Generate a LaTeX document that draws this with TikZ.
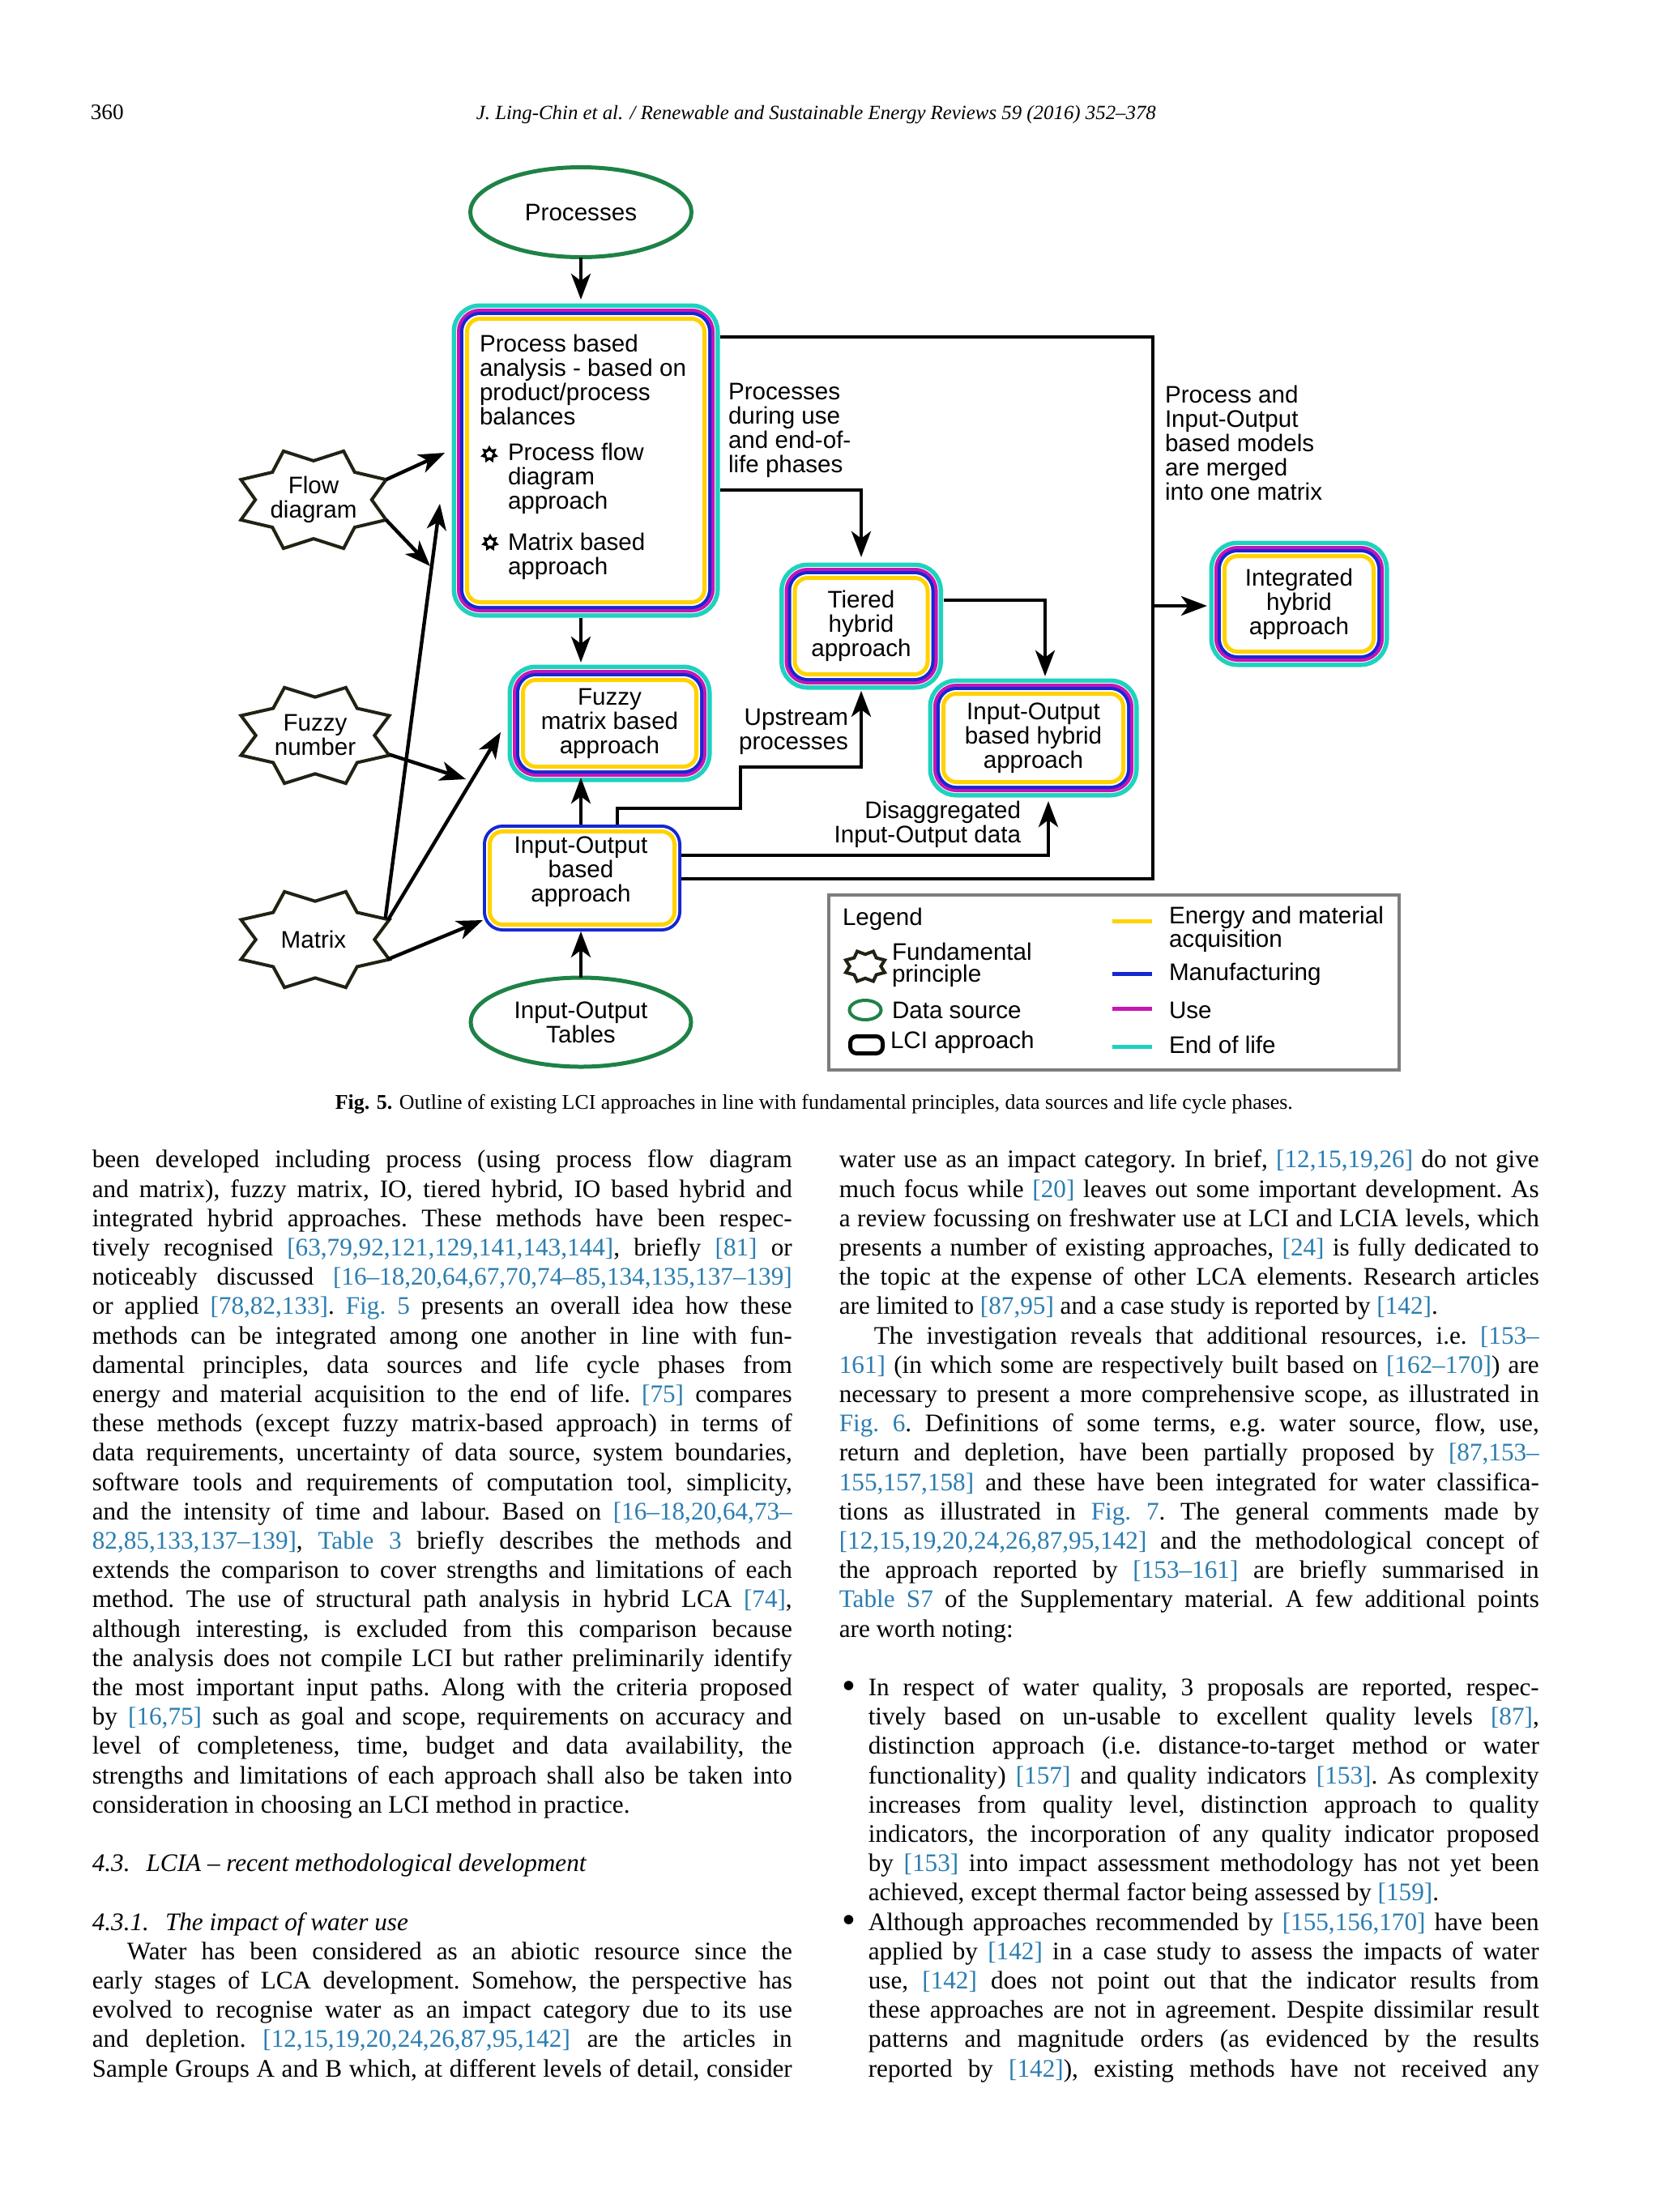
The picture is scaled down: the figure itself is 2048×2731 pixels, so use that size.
\documentclass[tikz,border=0pt]{standalone}
\usepackage{fontspec}
\setmainfont{Liberation Serif}
\newfontfamily\arialf{Liberation Sans}
\usepackage{graphicx}
\usetikzlibrary{shapes.geometric,arrows.meta,calc}
\definecolor{cT}{HTML}{1ED2BE}
\definecolor{cM}{HTML}{C814B4}
\definecolor{cB}{HTML}{1428D2}
\definecolor{cY}{HTML}{FFD200}
\definecolor{cG}{HTML}{1E8246}
\definecolor{lnk}{HTML}{2A7DB0}
\definecolor{starc}{HTML}{222214}
\definecolor{lgray}{HTML}{7D7D7D}
\newlength\colw \setlength\colw{216pt}
\newcommand\cit[1]{{\color{lnk}#1}}
\newcommand\jl[1]{\hbox to\colw{\rule{0pt}{7pt}#1}}
\newcommand\nl[1]{\hbox{\rule{0pt}{7pt}#1}}
\newcommand\il[1]{\hbox to\colw{\rule{0pt}{7pt}\hskip10.75pt #1}}
\newcommand\bfl[1]{\hbox to\colw{\rule{0pt}{7pt}\hbox to 9pt{\hskip0.8pt\raisebox{-0.9pt}{\scalebox{1.55}{•}}\hfil}#1}}
\newcommand\bjl[1]{\hbox to\colw{\rule{0pt}{7pt}\hskip9pt #1}}
\newcommand\bnl[1]{\hbox{\rule{0pt}{7pt}\hskip9pt #1}}
\newcommand\fstar[4]{\draw[starline] plot[samples at={0,...,15}] ({#1+#3*(1-0.26*mod(\x,2))*cos(22.5*\x-22.5)},{#2+#4*(1-0.26*mod(\x,2))*sin(22.5*\x-22.5)}) -- cycle;}
\tikzset{
 dtext/.style={font=\arialf\fontsize{7.4}{7.5}\selectfont},
 lci/.style={rectangle, rounded corners=4pt, draw=cY, line width=1.25pt, fill=white, inner sep=0pt, outer sep=0pt, align=center, dtext,
   preaction={draw=cT, line width=9.5pt},
   preaction={draw=white, line width=6.75pt},
   preaction={draw=cM, line width=6.25pt},
   preaction={draw=cB, line width=4.25pt},
   preaction={draw=white, line width=2.25pt}},
 iob/.style={rectangle, rounded corners=4pt, draw=cY, line width=1.25pt, fill=white, inner sep=0pt, outer sep=0pt, align=center, dtext,
   preaction={draw=cB, line width=4.25pt},
   preaction={draw=white, line width=2.25pt}},
 src/.style={ellipse, draw=cG, line width=1.25pt, fill=white, inner sep=0pt, outer sep=0pt, align=center, dtext},
 starline/.style={draw=starc, line width=1pt, fill=white, line join=miter},
 conn/.style={line width=1.1pt, line join=miter},
 arr/.style={conn, -{Stealth[length=8pt,width=6pt,inset=2.2pt]}},
 lbl/.style={dtext, inner sep=0pt, outer sep=0pt},
 swatch/.style={inner sep=0pt, outer sep=0pt, minimum width=12.25pt, minimum height=1.25pt},
 bicon/.style={star, star points=7, star point ratio=1.7, fill=black, minimum size=5.6pt, inner sep=0pt},
 bhole/.style={regular polygon, regular polygon sides=5, fill=white, minimum size=2.2pt, inner sep=0pt},
}
\begin{document}
\begin{tikzpicture}[x=0.25pt,y=-0.25pt]
\useasboundingbox (0,0) rectangle (2048,2731);
\fill[white] (0,0) rectangle (2048,2731);

% ---------- running head ----------
\node[anchor=base west, inner sep=0pt] (pgn) at (111,147) {\fontsize{6.8}{8}\selectfont 360};
\node[anchor=base west, inner sep=0pt] (runh) at (587,147) {\resizebox{209.75pt}{!}{\itshape J. Ling-Chin et al. / Renewable and Sustainable Energy Reviews 59 (2016) 352–378}};

% ---------- fundamental principles (stars) ----------
\fstar{387}{617}{97}{65}
\fstar{389}{908}{99}{64}
\fstar{389}{1160}{99}{64}
\node[lbl, align=center] (flow) at (387,617) {Flow\\diagram};
\node[lbl, align=center] (fnum) at (389,907) {Fuzzy\\number};
\node[lbl] (matx) at (387,1160) {Matrix};

% ---------- data sources ----------
\node[src, minimum width=68.25pt, minimum height=27.75pt] (proc) at (717,262) {Processes};
\node[src, minimum width=68pt, minimum height=27.5pt] (iot) at (717,1262) {Input-Output\\Tables};

% ---------- LCI approaches ----------
\node[lci, minimum width=73.25pt, minimum height=87.5pt] (pbox) at (723,568.5) {};
\node[lbl, anchor=north west, align=left] (ptxt) at (592,413.5) {Process based\\analysis - based on\\product/process\\balances};
\node[bicon] (pb1) at (604,561) {};
\node[bhole] (pb1c) at (604,561) {};
\node[lbl, anchor=north west, align=left] (pb1t) at (627,547.5) {Process flow\\diagram\\approach};
\node[bicon] (pb2) at (605,670) {};
\node[bhole] (pb2c) at (605,670) {};
\node[lbl, anchor=north west, align=left] (pb2t) at (627,658.5) {Matrix based\\approach};

\node[lci, minimum width=53.5pt, minimum height=26.75pt] (fuzzy) at (752.5,893) {Fuzzy\\matrix based\\approach};
\node[lci, minimum width=41pt, minimum height=29.75pt] (tier) at (1063,773) {Tiered\\hybrid\\approach};
\node[lci, minimum width=55.5pt, minimum height=27.25pt] (iohy) at (1275.5,911) {Input-Output\\based hybrid\\approach};
\node[lci, minimum width=46pt, minimum height=29.5pt] (integ) at (1603.5,745.5) {Integrated\\hybrid\\approach};
\node[iob, minimum width=57pt, minimum height=28.75pt] (io) at (718.5,1084) {};
\node[lbl, align=center] (iotxt) at (717,1076) {Input-Output\\based\\approach};

% ---------- connector labels ----------
\node[lbl, anchor=west, align=left] (lab1) at (899,531) {Processes\\during use\\and end-of-\\life phases};
\node[lbl, anchor=east, align=right] (lab2) at (1047,903.5) {Upstream\\processes};
\node[lbl, anchor=east, align=right] (lab3) at (1260,1017.5) {Disaggregated\\Input-Output data};
\node[lbl, anchor=west, align=left] (lab4) at (1438,547) {Process and\\Input-Output\\based models\\are merged\\into one matrix};

% ---------- connectors ----------
\coordinate (f1e) at (549,559);
\coordinate (f2e) at (531,699);
\coordinate (nume) at (575,962);
\coordinate (m1e) at (543,622);
\coordinate (m2e) at (618,904);
\coordinate (m3e) at (596,1136);
\coordinate (loopv) at (1423,748);

\draw[arr] ($(flow.center)+(-22.5:97 and 65)$) -- (f1e);
\draw[arr] ($(flow.center)+(22.5:97 and 65)$) -- (f2e);
\draw[arr] ($(fnum.center)+(22.5:99 and 64)$) -- (nume);
\draw[arr] ($(matx.center)+(-24:97 and 64)$) -- (m1e);
\draw[arr] ($(matx.center)+(-22:99 and 64)$) -- (m2e);
\draw[arr] ($(matx.center)+(22.5:99 and 64)$) -- (m3e);

\draw[arr, shorten >=5.9pt] (proc.south) -- (proc.south |- pbox.north);
\draw[arr, shorten <=4.9pt, shorten >=5.4pt] (proc.south |- pbox.south) -- (proc.south |- fuzzy.north);
\draw[arr, shorten <=2.1pt, shorten >=3.4pt] (proc.south |- io.north) -- (proc.south |- fuzzy.south);
\draw[arr, shorten >=2.1pt] (iot.north) -- (iot.north |- io.south);

\draw[arr, shorten <=4.9pt, shorten >=6.4pt] (pbox.east |- 0,605) -| (tier.north);
\draw[arr, shorten <=4.9pt, shorten >=5.4pt] (tier.east |- 0,741) -| (iohy.north -| 1290,0);
\draw[arr, shorten <=2.1pt, shorten >=5.1pt] (io.north -| 762,0) |- (914,998) |- (tier.south |- 0,947) -- (tier.south);
\draw[arr, shorten <=2.1pt, shorten >=5.9pt] (io.east |- 0,1056) -| (iohy.south -| 1294,0);
\draw[conn, shorten <=4.9pt, shorten >=2.1pt] (pbox.east |- 0,416) -| (1423,1085) -- (io.east |- 0,1085);
\draw[arr, shorten >=5.4pt] (loopv) -- (integ.west |- loopv);

% ---------- legend ----------
\node[draw=lgray, line width=1pt, minimum width=176pt, minimum height=54pt, inner sep=0pt, outer sep=0pt] (legend) at (1375,1213) {};
\node[lbl, anchor=west] (lgt) at (1040,1135) {Legend};
\fstar{1068}{1193}{26}{20}
\node[lbl, anchor=west, align=left, font=\arialf\fontsize{7.4}{6.9}\selectfont] (lfp) at (1101,1191.5) {Fundamental\\principle};
\node[ellipse, draw=cG, line width=1pt, minimum width=9.75pt, minimum height=6pt, inner sep=0pt] (ldsi) at (1068,1247) {};
\node[lbl, anchor=west] (lds) at (1101,1247) {Data source};
\node[rectangle, rounded corners=2pt, draw=black, line width=1.25pt, minimum width=10pt, minimum height=5.25pt, inner sep=0pt] (llcii) at (1069.5,1290) {};
\node[lbl, anchor=west] (llci) at (1099,1287) {LCI approach};
\node[swatch, fill=cY] (lsy) at (1397.5,1137) {};
\node[swatch, fill=cB] (lsb) at (1397.5,1202) {};
\node[swatch, fill=cM] (lsm) at (1397.5,1245) {};
\node[swatch, fill=cT] (lst) at (1397.5,1292) {};
\node[lbl, anchor=west, align=left, font=\arialf\fontsize{7.4}{7.25}\selectfont] (lem) at (1443,1147.5) {Energy and material\\acquisition};
\node[lbl, anchor=west] (lma) at (1443,1203) {Manufacturing};
\node[lbl, anchor=west] (luse) at (1443,1247) {Use};
\node[lbl, anchor=west] (leol) at (1443,1290) {End of life};

% ---------- caption ----------
\node[anchor=base west, inner sep=0pt] (cap) at (413,1369) {\resizebox{295.5pt}{!}{\textbf{Fig. 5.} Outline of existing LCI approaches in line with fundamental principles, data sources and life cycle phases.}};

% ---------- body text ----------
\node[anchor=north west, inner sep=0pt] (lcol) at (113,1413) {\vbox{\hsize=\colw \fontsize{7.8}{9.05}\selectfont \lineskiplimit=-100pt \frenchspacing
\jl{been developed including process (using process flow diagram}
\jl{and matrix), fuzzy matrix, IO, tiered hybrid, IO based hybrid and}
\jl{integrated hybrid approaches. These methods have been respec-}
\jl{tively recognised \cit{[63,79,92,121,129,141,143,144]}, briefly \cit{[81]} or}
\jl{noticeably discussed \cit{[16–18,20,64,67,70,74–85,134,135,137–139]}}
\jl{or applied \cit{[78,82,133]}. \cit{Fig. 5} presents an overall idea how these}
\jl{methods can be integrated among one another in line with fun-}
\jl{damental principles, data sources and life cycle phases from}
\jl{energy and material acquisition to the end of life. \cit{[75]} compares}
\jl{these methods (except fuzzy matrix-based approach) in terms of}
\jl{data requirements, uncertainty of data source, system boundaries,}
\jl{software tools and requirements of computation tool, simplicity,}
\jl{and the intensity of time and labour. Based on \cit{[16–18,20,64,73–}}
\jl{\cit{82,85,133,137–139]}, \cit{Table 3} briefly describes the methods and}
\jl{extends the comparison to cover strengths and limitations of each}
\jl{method. The use of structural path analysis in hybrid LCA \cit{[74]},}
\jl{although interesting, is excluded from this comparison because}
\jl{the analysis does not compile LCI but rather preliminarily identify}
\jl{the most important input paths. Along with the criteria proposed}
\jl{by \cit{[16,75]} such as goal and scope, requirements on accuracy and}
\jl{level of completeness, time, budget and data availability, the}
\jl{strengths and limitations of each approach shall also be taken into}
\nl{consideration in choosing an LCI method in practice.}
\hbox{}
\nl{\itshape 4.3.\hskip5pt LCIA – recent methodological development}
\hbox{}
\nl{\itshape 4.3.1.\hskip5pt The impact of water use}
\il{Water has been considered as an abiotic resource since the}
\jl{early stages of LCA development. Somehow, the perspective has}
\jl{evolved to recognise water as an impact category due to its use}
\jl{and depletion. \cit{[12,15,19,20,24,26,87,95,142]} are the articles in}
\jl{Sample Groups A and B which, at different levels of detail, consider}
}};

\node[anchor=north west, inner sep=0pt] (rcol) at (1035,1413) {\vbox{\hsize=\colw \fontsize{7.8}{9.05}\selectfont \lineskiplimit=-100pt \frenchspacing
\jl{water use as an impact category. In brief, \cit{[12,15,19,26]} do not give}
\jl{much focus while \cit{[20]} leaves out some important development. As}
\jl{a review focussing on freshwater use at LCI and LCIA levels, which}
\jl{presents a number of existing approaches, \cit{[24]} is fully dedicated to}
\jl{the topic at the expense of other LCA elements. Research articles}
\nl{are limited to \cit{[87,95]} and a case study is reported by \cit{[142]}.}
\il{The investigation reveals that additional resources, i.e. \cit{[153–}}
\jl{\cit{161]} (in which some are respectively built based on \cit{[162–170]}) are}
\jl{necessary to present a more comprehensive scope, as illustrated in}
\jl{\cit{Fig. 6}. Definitions of some terms, e.g. water source, flow, use,}
\jl{return and depletion, have been partially proposed by \cit{[87,153–}}
\jl{\cit{155,157,158]} and these have been integrated for water classifica-}
\jl{tions as illustrated in \cit{Fig. 7}. The general comments made by}
\jl{\cit{[12,15,19,20,24,26,87,95,142]} and the methodological concept of}
\jl{the approach reported by \cit{[153–161]} are briefly summarised in}
\jl{\cit{Table S7} of the Supplementary material. A few additional points}
\nl{are worth noting:}
\hbox{}
\bfl{In respect of water quality, 3 proposals are reported, respec-}
\bjl{tively based on un-usable to excellent quality levels \cit{[87]},}
\bjl{distinction approach (i.e. distance-to-target method or water}
\bjl{functionality) \cit{[157]} and quality indicators \cit{[153]}. As complexity}
\bjl{increases from quality level, distinction approach to quality}
\bjl{indicators, the incorporation of any quality indicator proposed}
\bjl{by \cit{[153]} into impact assessment methodology has not yet been}
\bnl{achieved, except thermal factor being assessed by \cit{[159]}.}
\bfl{Although approaches recommended by \cit{[155,156,170]} have been}
\bjl{applied by \cit{[142]} in a case study to assess the impacts of water}
\bjl{use, \cit{[142]} does not point out that the indicator results from}
\bjl{these approaches are not in agreement. Despite dissimilar result}
\bjl{patterns and magnitude orders (as evidenced by the results}
\bjl{reported by \cit{[142]}), existing methods have not received any}
}};
\end{tikzpicture}
\end{document}
